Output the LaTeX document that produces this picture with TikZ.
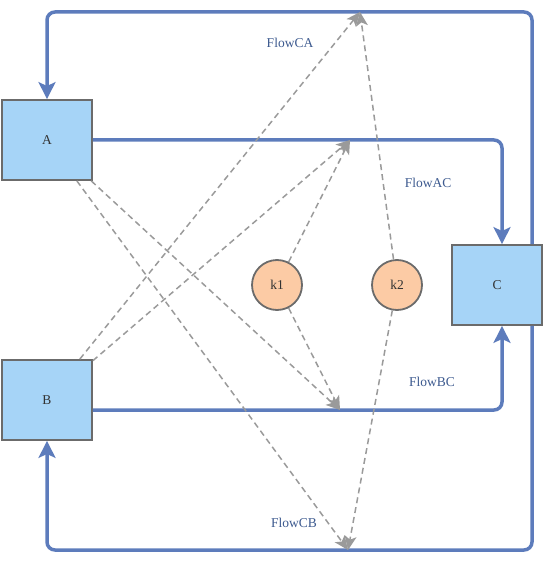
\documentclass[tikz,border=0pt]{standalone}
\usepackage{fontspec}
\setmainfont{Liberation Serif}
\usepackage{xcolor}
\usetikzlibrary{arrows.meta}

\definecolor{stockfill}{HTML}{A6D4F7}
\definecolor{stockedge}{HTML}{6B6B6B}
\definecolor{auxfill}{HTML}{FCCBA5}
\definecolor{flowblue}{HTML}{5D7CBC}
\definecolor{labelblue}{HTML}{3D5A8F}
\definecolor{linkgray}{HTML}{9A9A9A}

\begin{document}
\begin{tikzpicture}[x=1pt, y=-1pt,
    every node/.style={font=\fontsize{13.5}{16}\selectfont},
    stock/.style={draw=stockedge, line width=1.8pt, fill=stockfill, minimum width=90pt, minimum height=80pt, inner sep=0pt, text=black!80},
    aux/.style={circle, draw=stockedge, line width=1.8pt, fill=auxfill, minimum size=50pt, inner sep=0pt, text=black!80},
    flow/.style={draw=flowblue, line width=3.5pt, rounded corners=8pt, -{Stealth[length=17pt, width=17pt, inset=4pt]}},
    link/.style={draw=linkgray, line width=1.5pt, dash pattern=on 6pt off 4pt, -{Stealth[length=14pt, width=12pt, inset=3.5pt]}},
    flowlabel/.style={text=labelblue}]

    \useasboundingbox (0,0) rectangle (544,561);

    % Stocks and constants
    \node[stock] (A) at (47,140) {A};
    \node[stock] (B) at (47,400) {B};
    \node[stock] (C) at (497,285) {C};
    \node[aux] (k1) at (277,285) {k1};
    \node[aux] (k2) at (397,285) {k2};

    % Valves on the flows
    \coordinate (fCA) at (360,12);
    \coordinate (fAC) at (350,140);
    \coordinate (fBC) at (340,410);
    \coordinate (fCB) at (348,550);

    % Draw flows
    \draw[flow] ([xshift=35pt]C.north) |- (fCA) -| (A.north);
    \draw[flow] (A.east) -| ([xshift=5pt]C.north);
    \draw[flow] ([yshift=-10pt]B.east) -| ([xshift=5pt]C.south);
    \draw[flow] ([xshift=35pt]C.south) |- (fCB) -| (B.south);

    % Flow labels
    \node[flowlabel] (lCA) at (290,43) {FlowCA};
    \node[flowlabel] (lAC) at (428,183) {FlowAC};
    \node[flowlabel] (lBC) at (432,382) {FlowBC};
    \node[flowlabel] (lCB) at (294,523) {FlowCB};

    % Draw links
    \foreach \src/\dst in {A/fBC, A/fCB, B/fCA, B/fAC, k1/fAC, k1/fBC, k2/fCA, k2/fCB} {
        \draw[link] (\src) -- (\dst);
    }

\end{tikzpicture}
\end{document}
